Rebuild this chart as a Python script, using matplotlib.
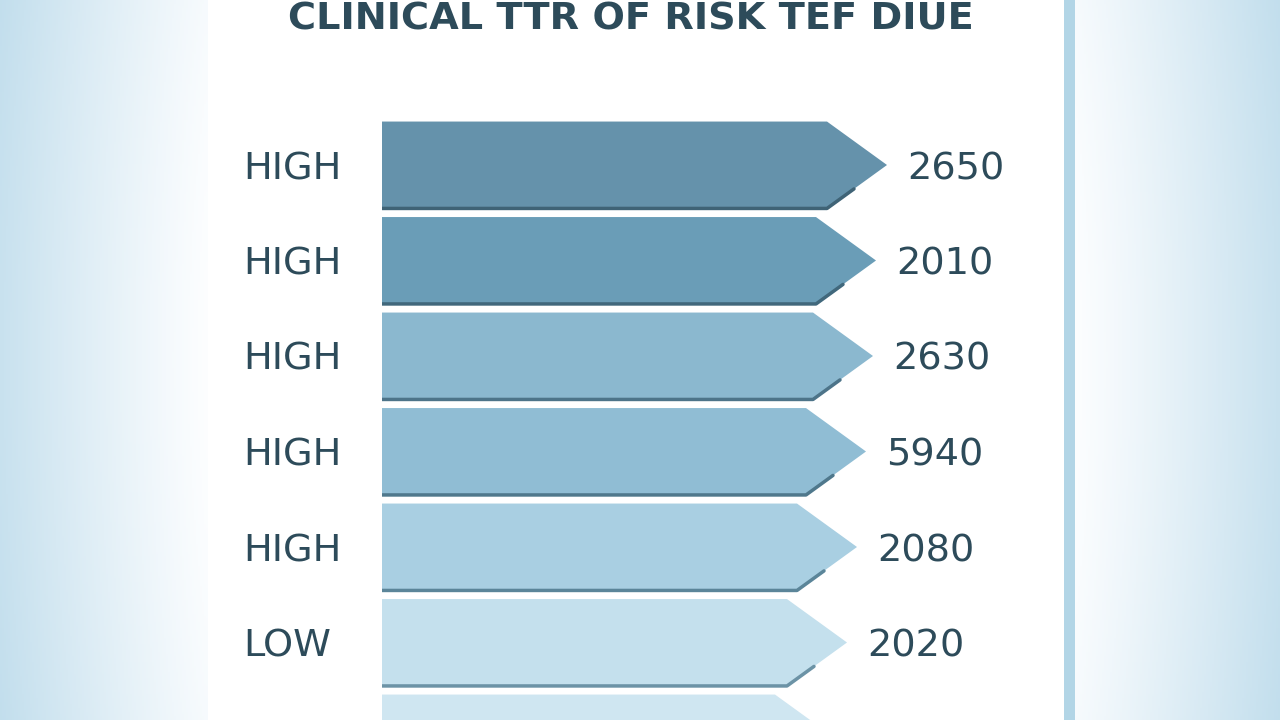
import numpy as np
import matplotlib.pyplot as plt
from matplotlib.patches import Polygon, FancyBboxPatch

# data
title = 'CLINICAL TTR OF RISK TEF DIUE'
risk_labels = ['HIGH', 'HIGH', 'HIGH', 'HIGH', 'HIGH', 'LOW', '']
value_labels = ['2650', '2010', '2630', '5940', '2080', '2020', '']
bar_length = [505, 494, 491, 484, 475, 465, 453]   # drawn length of each arrow bar
bar_colors = ['#6592ab', '#6a9db7', '#8bb8cf', '#90bdd4', '#a9cfe2', '#c4e0ed', '#cfe6f1']
edge_colors = ['#3f6376', '#41687c', '#4d7489', '#4f788c', '#5b8599', '#6c93a6', '#7aa0b2']

text_color = '#2d4b5a'
W, H = 1280, 720

fig = plt.figure(figsize=(12.8, 7.2), dpi=100)

# background gradient
bg = fig.add_axes([0, 0, 1, 1])
bg.set_axis_off()
xx, yy = np.meshgrid(np.linspace(-1, 1, 640), np.linspace(-1, 1, 360))
d = np.clip((np.abs(xx) - 0.68) / 0.32, 0, 1) ** 1.1 * 0.85 + np.abs(yy) ** 2 * 0.1
d = np.clip(d, 0, 1)
c0 = np.array([0.99, 0.995, 1.0])
c1 = np.array([0.75, 0.865, 0.925])
img = c0[None, None, :] * (1 - d[..., None]) + c1[None, None, :] * d[..., None]
bg.imshow(img, extent=[0, W, H, 0], aspect='auto')
bg.set_xlim(0, W)
bg.set_ylim(H, 0)

# white card with blue right border
bg.add_patch(FancyBboxPatch((1040, -20), 35, 760, boxstyle='round,pad=0,rounding_size=6',
                            fc='#b2d5e6', ec='none'))
bg.add_patch(FancyBboxPatch((208, -20), 856, 760, boxstyle='round,pad=0,rounding_size=10',
                            fc='white', ec='none'))

# bar axes: 1 data unit = 1 px horizontally
left_px = 382
ax = fig.add_axes([left_px / W, 0, 640 / W, 1])
ax.set_axis_off()
ax.set_xlim(0, 640)
row0, step = 165, 95.5
ax.set_ylim((H - row0) / step, -row0 / step)

bar_h = 0.91
tip = 60
base = 14 / step
for i, (L, fc, ec) in enumerate(zip(bar_length, bar_colors, edge_colors)):
    top, bot = i - bar_h / 2, i + bar_h / 2
    pts = [(0, top), (L - tip, top), (L, i), (L - tip, bot), (0, bot)]
    ax.add_patch(Polygon(pts, closed=True, fc=fc, ec='none', joinstyle='round'))
    ax.plot([0, L - tip, L - tip * 0.55], [bot, bot, i + bar_h / 2 * 0.55], color=ec, lw=2.5,
            solid_capstyle='round', solid_joinstyle='round')
    ax.text(L + 20, i + base, value_labels[i], fontsize=27.5, color=text_color,
            va='baseline', ha='left', clip_on=False)
    ax.text(243 - left_px, i + base, risk_labels[i], fontsize=27.5, color=text_color,
            va='baseline', ha='left', clip_on=False)

fig.text(631 / W, 1 - 29 / H, title, fontsize=27.5, color=text_color,
         weight='bold', ha='center', va='baseline')

fig.savefig('out.png', dpi=100)
